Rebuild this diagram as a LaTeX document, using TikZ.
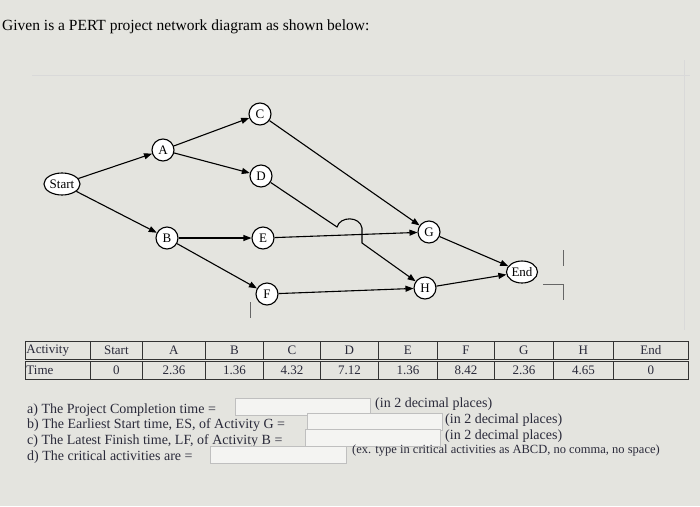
\documentclass[tikz,border=0pt]{standalone}
\usepackage{fontspec}
\setmainfont{Liberation Serif}
\usetikzlibrary{arrows.meta,shapes.geometric}
\definecolor{bg}{HTML}{E4E4DF}
\definecolor{tx}{HTML}{2A2A3A}
\begin{document}
\begin{tikzpicture}[x=1pt,y=-1pt,
  ev/.style={draw=black,line width=1.1pt,circle,inner sep=0pt,minimum size=22pt,font=\fontsize{13}{14}\selectfont,fill=white},
  evo/.style={draw=black,line width=1.1pt,ellipse,inner sep=0.5pt,minimum height=22pt,font=\fontsize{13}{14}\selectfont,fill=white},
  arr/.style={-{Triangle[length=8pt,width=6pt]},line width=1.1pt},
  cell/.style={draw=black!80,line width=0.8pt,minimum height=18pt,inner sep=0pt,anchor=north west,font=\fontsize{13}{14}\selectfont,text=tx},
  ans/.style={draw=black!25,fill=white!60!bg,minimum height=17pt,inner sep=0pt,anchor=west},
  q/.style={font=\fontsize{14}{15}\selectfont,text=tx,anchor=west,inner sep=0pt}]
\fill[bg] (0,0) rectangle (700,506);
\useasboundingbox (0,0) rectangle (700,506);
\node[anchor=west,inner sep=0pt,font=\fontsize{15.5}{16}\selectfont] (title) at (2,27) {Given is a PERT project network diagram as shown below:};
\draw[black!15,line width=1pt] (32,75) -- (690,75);
\draw[black!15,line width=1pt] (684,60) -- (684,330);
% network
\node[evo] (S) at (62,184) {Start};
\node[ev] (A) at (163,150) {A};
\node[ev] (B) at (167,238) {B};
\node[ev] (C) at (260,114) {C};
\node[ev] (D) at (261,176) {D};
\node[ev] (E) at (263,238) {E};
\node[ev] (F) at (267,294) {F};
\node[ev] (G) at (429,232) {G};
\node[ev] (H) at (425,288) {H};
\node[evo] (End) at (522,272) {End};
\draw[arr] (S) -- (A);
\draw[arr] (S) -- (B);
\draw[arr] (A) -- (C);
\draw[arr] (A) -- (D);
\draw[arr] (B) -- (E);
\draw[arr] (B) -- (F);
\draw[arr] (C) -- (G);
\draw[arr] (E) -- (G);
\draw[arr] (F) -- (H);
\draw[arr] (G) -- (End);
\draw[arr] (H) -- (End);
\coordinate (h1) at (337,227);
\coordinate (h2) at (362,243);
\draw[arr] (D) -- (h1) .. controls (340,216) and (360,216) .. (362,228) -- (h2) -- (H);
\draw[black!60,line width=0.6pt] (250,302) -- (250,318);
\draw[black!60,line width=0.6pt] (563,250) -- (563,266) (543,284) -- (563,284) -- (563,300);
% table
\foreach \x/\w/\h/\t [count=\i] in {90/52/Start/0,142/63/A/2.36,205/58/B/1.36,263/57/C/4.32,320/58/D/7.12,378/59/E/1.36,437/57/F/8.42,494/59/G/2.36,553/60/H/4.65,613/75/End/0}{
  \node[cell,minimum width=\w pt] (h\i) at (\x,341) {\h};
  \node[cell,minimum width=\w pt] (t\i) at (\x,361) {\t};
}
\node[cell,minimum width=65pt,text width=63pt,align=left] (ha) at (25,341) {Activity};
\node[cell,minimum width=65pt,text width=63pt,align=left] (ta) at (25,361) {Time};
% questions
\node[q] (qa) at (27,410) {a) The Project Completion time =};
\node[ans,minimum width=135pt] (ba) at (235,407) {};
\node[q] (na) at (375,404) {(in 2 decimal places)};
\node[q] (qb) at (27,425) {b) The Earliest Start time, ES, of Activity G =};
\node[ans,minimum width=135pt] (bb) at (307,422) {};
\node[q] (nb) at (445,420) {(in 2 decimal places)};
\node[q] (qc) at (27,441) {c) The Latest Finish time, LF, of Activity B =};
\node[ans,minimum width=135pt] (bc) at (305,438) {};
\node[q] (nc) at (445,436) {(in 2 decimal places)};
\node[q] (qd) at (27,457) {d) The critical activities are =};
\node[ans,minimum width=136pt] (bd) at (210,455) {};
\node[q,font=\fontsize{12.5}{13}\selectfont] (nd) at (352,451) {(ex. type in critical activities as ABCD, no comma, no space)};
\end{tikzpicture}
\end{document}
